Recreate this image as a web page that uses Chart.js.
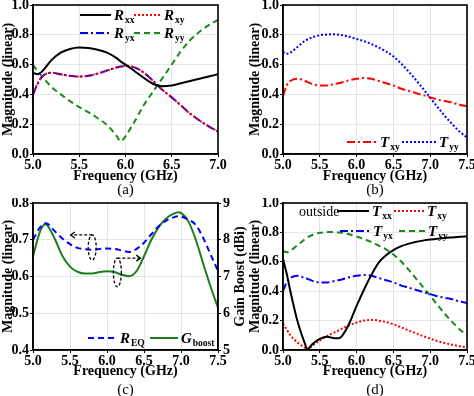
<!DOCTYPE html>
<html>
<head>
<meta charset="utf-8">
<script src="https://cdn.jsdelivr.net/npm/chart.js@4.4.1/dist/chart.umd.min.js"></script>
<style>
html, body { margin: 0; padding: 0; background: #fff; }
#wrap { position: relative; width: 474px; height: 396px; overflow: hidden; }
canvas { position: absolute; }
</style>
</head>
<body>
<div id="wrap">
  <canvas id="cc" width="250" height="198" style="left:0;top:198px;width:250px;height:198px"></canvas>
  <canvas id="ca" width="237" height="198" style="left:0;top:0;width:237px;height:198px"></canvas>
  <canvas id="cb" width="237" height="198" style="left:237px;top:0;width:237px;height:198px"></canvas>
  <canvas id="cd" width="237" height="198" style="left:237px;top:198px;width:237px;height:198px"></canvas>
</div>
<script>
// (a) reflection
var freqA = [5.0,5.05,5.1,5.2,5.3,5.4,5.5,5.6,5.7,5.8,5.9,5.95,6.0,6.1,6.2,6.3,6.4,6.5,6.6,6.7,6.8,6.9,7.0];
var rxxA  = [0.545,0.535,0.555,0.63,0.68,0.705,0.715,0.712,0.70,0.68,0.645,0.62,0.60,0.555,0.51,0.47,0.455,0.46,0.475,0.49,0.505,0.52,0.535];
var rxyA  = [0.40,0.475,0.52,0.545,0.535,0.524,0.52,0.526,0.54,0.56,0.58,0.588,0.592,0.582,0.545,0.49,0.43,0.38,0.325,0.27,0.225,0.185,0.15];
var ryxA  = [0.40,0.47,0.52,0.545,0.535,0.525,0.52,0.525,0.54,0.56,0.58,0.587,0.59,0.58,0.545,0.49,0.43,0.38,0.325,0.27,0.225,0.185,0.15];
var ryyA  = [0.60,0.555,0.52,0.45,0.40,0.355,0.315,0.28,0.24,0.195,0.125,0.085,0.12,0.22,0.33,0.42,0.51,0.60,0.69,0.765,0.82,0.865,0.90];

// (b) transmission
var freqB = [5.0,5.05,5.1,5.2,5.3,5.4,5.5,5.6,5.7,5.8,5.9,6.0,6.1,6.2,6.3,6.4,6.5,6.6,6.7,6.8,6.9,7.0,7.1,7.2,7.3,7.4,7.5];
var txyB  = [0.39,0.46,0.49,0.505,0.49,0.47,0.46,0.46,0.47,0.48,0.495,0.505,0.51,0.505,0.49,0.475,0.46,0.44,0.425,0.41,0.395,0.38,0.365,0.355,0.345,0.33,0.32];
var tyyB  = [0.685,0.672,0.68,0.72,0.76,0.783,0.797,0.802,0.803,0.798,0.787,0.772,0.757,0.738,0.715,0.688,0.655,0.61,0.557,0.50,0.44,0.378,0.315,0.255,0.20,0.15,0.11];

// (c) equivalent reflection and gain boost
var freqC   = [5.0,5.1,5.17,5.2,5.3,5.4,5.5,5.6,5.7,5.8,5.9,6.0,6.1,6.2,6.3,6.4,6.5,6.6,6.7,6.8,6.9,6.97,7.0,7.1,7.2,7.3,7.4,7.5];
var reqC    = [0.70,0.735,0.745,0.743,0.722,0.703,0.688,0.678,0.674,0.673,0.675,0.676,0.675,0.671,0.667,0.675,0.692,0.715,0.737,0.752,0.761,0.764,0.763,0.755,0.74,0.705,0.66,0.615];
var gboostC = [7.55,8.25,8.42,8.38,8.0,7.55,7.27,7.13,7.08,7.08,7.12,7.14,7.12,7.05,7.01,7.15,7.55,8.0,8.35,8.58,8.71,8.75,8.73,8.5,8.0,7.35,6.72,6.15];
var notesC  = [ {x:5.8, y:0.679, axis:'y', toX:5.51, arrowY:0.713},
                {x:6.14, y:7.11, axis:'y1', toX:6.45, arrowY:7.5} ];

// (d) transmission, outside
var freqD = [5.0,5.05,5.1,5.2,5.3,5.33,5.4,5.5,5.6,5.7,5.75,5.8,5.9,6.0,6.1,6.2,6.3,6.4,6.5,6.6,6.7,6.8,6.9,7.0,7.1,7.2,7.3,7.4,7.5];
var txxD  = [0.62,0.52,0.40,0.19,0.04,0.005,0.04,0.075,0.09,0.08,0.08,0.095,0.18,0.30,0.41,0.51,0.595,0.645,0.68,0.705,0.722,0.735,0.744,0.751,0.757,0.762,0.766,0.77,0.773];
var txyD  = [0.18,0.14,0.10,0.05,0.012,0.0,0.03,0.065,0.095,0.12,0.132,0.145,0.168,0.187,0.20,0.205,0.20,0.19,0.175,0.155,0.135,0.115,0.095,0.077,0.06,0.047,0.036,0.026,0.018];
var tyxD  = [0.40,0.46,0.49,0.505,0.49,0.485,0.47,0.46,0.46,0.47,0.475,0.48,0.495,0.505,0.51,0.505,0.49,0.475,0.46,0.44,0.425,0.41,0.395,0.38,0.365,0.355,0.345,0.33,0.32];
var tyyD  = [0.675,0.665,0.675,0.715,0.755,0.765,0.782,0.797,0.802,0.803,0.80,0.797,0.787,0.772,0.755,0.735,0.71,0.685,0.65,0.605,0.55,0.49,0.43,0.37,0.305,0.245,0.19,0.14,0.10];

var SERIF = 'Liberation Serif';
var tickFont = { family: SERIF, size: 14, weight: 'bold' };
var titleFont = { family: SERIF, size: 14, weight: 'bold' };

var DOT = [2, 2], DASH = [6, 4], DASHDOT = [8, 3, 2, 3];

function line(label, xs, ys, color, dash, axis) {
  return {
    label: label,
    data: xs.map(function (x, i) { return { x: x, y: ys[i] }; }),
    borderColor: color, borderDash: dash, borderWidth: 2,
    pointRadius: 0, fill: false, cubicInterpolationMode: 'monotone',
    yAxisID: axis || 'y'
  };
}

// frame, panel letter, legend with subscripts, extra rotated title, arrows
var extras = {
  id: 'extras',
  afterDraw: function (chart, args, o) {
    var ctx = chart.ctx, a = chart.chartArea;
    ctx.save();
    ctx.strokeStyle = '#000'; ctx.lineWidth = 1.6; ctx.setLineDash([]);
    ctx.strokeRect(a.left, a.top, a.right - a.left, a.bottom - a.top);

    ctx.fillStyle = '#000';
    ctx.textAlign = 'center'; ctx.textBaseline = 'middle';
    ctx.font = '15px "' + SERIF + '"';
    ctx.fillText(o.panel, (a.left + a.right) / 2, o.panelY);

    if (o.sideTitle) {
      ctx.save();
      ctx.translate(o.sideX, (a.top + a.bottom) / 2);
      ctx.rotate(-Math.PI / 2);
      ctx.font = 'bold 14px "' + SERIF + '"';
      ctx.fillText(o.sideTitle, 0, 0);
      ctx.restore();
    }

    (o.notes || []).forEach(function (n) {
      var xs = chart.scales.x, ys = chart.scales[n.axis];
      var px = xs.getPixelForValue(n.x), py = ys.getPixelForValue(n.y);
      var ay = ys.getPixelForValue(n.arrowY), tx = xs.getPixelForValue(n.toX);
      ctx.strokeStyle = '#000'; ctx.lineWidth = 1.3; ctx.setLineDash([3, 2]);
      ctx.beginPath(); ctx.ellipse(px, py, 4, py - ay, 0, 0, Math.PI * 2); ctx.stroke();
      ctx.beginPath(); ctx.moveTo(px, ay); ctx.lineTo(tx, ay); ctx.stroke();
      ctx.setLineDash([]);
      var d = tx < px ? 1 : -1;
      ctx.beginPath(); ctx.moveTo(tx + 4 * d, ay - 3); ctx.lineTo(tx, ay); ctx.lineTo(tx + 4 * d, ay + 3); ctx.stroke();
    });

    (o.legend || []).forEach(function (it) {
      ctx.textAlign = 'left'; ctx.textBaseline = 'alphabetic'; ctx.fillStyle = '#000';
      if (it.text) {
        ctx.font = '14px "' + SERIF + '"';
        ctx.fillText(it.text, it.x, it.y + 5);
        return;
      }
      var ds = chart.data.datasets[it.ds];
      ctx.strokeStyle = ds.borderColor; ctx.lineWidth = ds.borderWidth;
      ctx.setLineDash(ds.borderDash || []);
      ctx.beginPath(); ctx.moveTo(it.x, it.y); ctx.lineTo(it.x + it.w, it.y); ctx.stroke();
      ctx.setLineDash([]);
      var parts = ds.label.split('_');
      var x = it.x + it.w + 3;
      ctx.font = 'italic bold 15px "' + SERIF + '"';
      ctx.fillText(parts[0], x, it.y + 5);
      x += ctx.measureText(parts[0]).width + 1;
      ctx.font = 'bold 9.5px "' + SERIF + '"';
      ctx.fillText(parts[1], x, it.y + 8);
    });
    ctx.restore();
  }
};

function xAxis(max, h, titleBottom) {
  return {
    type: 'linear', min: 5, max: max,
    afterFit: function (s) { s.height = h; s.paddingLeft = 0; s.paddingRight = 0; },
    ticks: { stepSize: 0.5, padding: 0, color: '#000', font: tickFont, maxRotation: 0, autoSkip: false,
             callback: function (v) { return v.toFixed(1); } },
    grid: { color: '#e4e4e4', tickColor: '#000', tickLength: 3 },
    border: { color: '#000', width: 1.5 },
    title: { display: true, text: 'Frequency (GHz)', color: '#000', font: titleFont,
             padding: { top: 0, bottom: titleBottom } }
  };
}

function yAxis(min, max, step, w, titlePad, digits) {
  return {
    type: 'linear', position: 'left', min: min, max: max,
    afterFit: function (s) { s.width = w; s.paddingTop = 0; s.paddingBottom = 0; },
    ticks: { stepSize: step, padding: 1, color: '#000', font: tickFont,
             callback: function (v) { return v.toFixed(digits); } },
    grid: { color: '#e4e4e4', tickColor: '#000', tickLength: 3 },
    border: { color: '#000', width: 1.5 },
    title: { display: true, text: 'Magnitude (linear)', color: '#000', font: titleFont,
             padding: { top: titlePad, bottom: 0 } }
  };
}

function make(id, datasets, scales, pad, ext) {
  return new Chart(document.getElementById(id), {
    type: 'line',
    data: { datasets: datasets },
    options: {
      responsive: false, animation: false, devicePixelRatio: 1,
      layout: { padding: pad },
      scales: scales,
      plugins: { legend: { display: false }, tooltip: { enabled: false }, extras: ext }
    },
    plugins: [extras]
  });
}

make('ca', [
    line('R_xx', freqA, rxxA, '#000000', []),
    line('R_xy', freqA, rxyA, '#ff0000', DOT),
    line('R_yx', freqA, ryxA, '#0000ff', DASHDOT),
    line('R_yy', freqA, ryyA, '#1a8a1a', DASH)
  ],
  { x: xAxis(7.0, 44, 13), y: yAxis(0, 1, 0.2, 33, 0, 1) },
  { left: 0, right: 19, top: 5, bottom: 0 },
  { panel: '(a)', panelY: 190,
    legend: [ {ds:0, x:80, y:15, w:31}, {ds:1, x:134, y:15, w:27},
              {ds:2, x:80, y:33, w:31}, {ds:3, x:134, y:33, w:27} ] });

make('cb', [
    line('T_xy', freqB, txyB, '#ff0000', DASHDOT),
    line('T_yy', freqB, tyyB, '#0000ff', DOT)
  ],
  { x: xAxis(7.5, 44, 13), y: yAxis(0, 1, 0.2, 46, 10, 1) },
  { left: 0, right: 7, top: 5, bottom: 0 },
  { panel: '(b)', panelY: 190,
    legend: [ {ds:0, x:110, y:142, w:30}, {ds:1, x:165, y:142, w:34} ] });

make('cc', [
    line('R_EQ', freqC, reqC, '#0000ff', DASH),
    line('G_boost', freqC, gboostC, '#1a7f1a', [], 'y1')
  ],
  { x: xAxis(7.5, 46, 16), y: yAxis(0.4, 0.8, 0.1, 33, 0, 1),
    y1: { type: 'linear', position: 'right', min: 5, max: 9,
          afterFit: function (s) { s.width = 32; s.paddingTop = 0; s.paddingBottom = 0; },
          ticks: { stepSize: 1, padding: 2, color: '#000', font: tickFont },
          grid: { drawOnChartArea: false, tickColor: '#000', tickLength: 3 },
          border: { color: '#000', width: 1.5 } } },
  { left: 0, right: 0, top: 5, bottom: 0 },
  { panel: '(c)', panelY: 192, sideTitle: 'Gain Boost (dBi)', sideX: 240, notes: notesC,
    legend: [ {ds:0, x:88, y:140, w:29}, {ds:1, x:150, y:140, w:28} ] });

make('cd', [
    line('T_xx', freqD, txxD, '#000000', []),
    line('T_xy', freqD, txyD, '#ff0000', DOT),
    line('T_yx', freqD, tyxD, '#0000ff', DASHDOT),
    line('T_yy', freqD, tyyD, '#1a8a1a', DASH)
  ],
  { x: xAxis(7.5, 46, 16), y: yAxis(0, 1, 0.2, 46, 10, 1) },
  { left: 0, right: 7, top: 5, bottom: 0 },
  { panel: '(d)', panelY: 192,
    legend: [ {text:'outside', x:62, y:13}, {ds:0, x:100, y:13, w:32}, {ds:1, x:157, y:13, w:30},
              {ds:2, x:103, y:33, w:30}, {ds:3, x:162, y:33, w:26} ] });
</script>
</body>
</html>
